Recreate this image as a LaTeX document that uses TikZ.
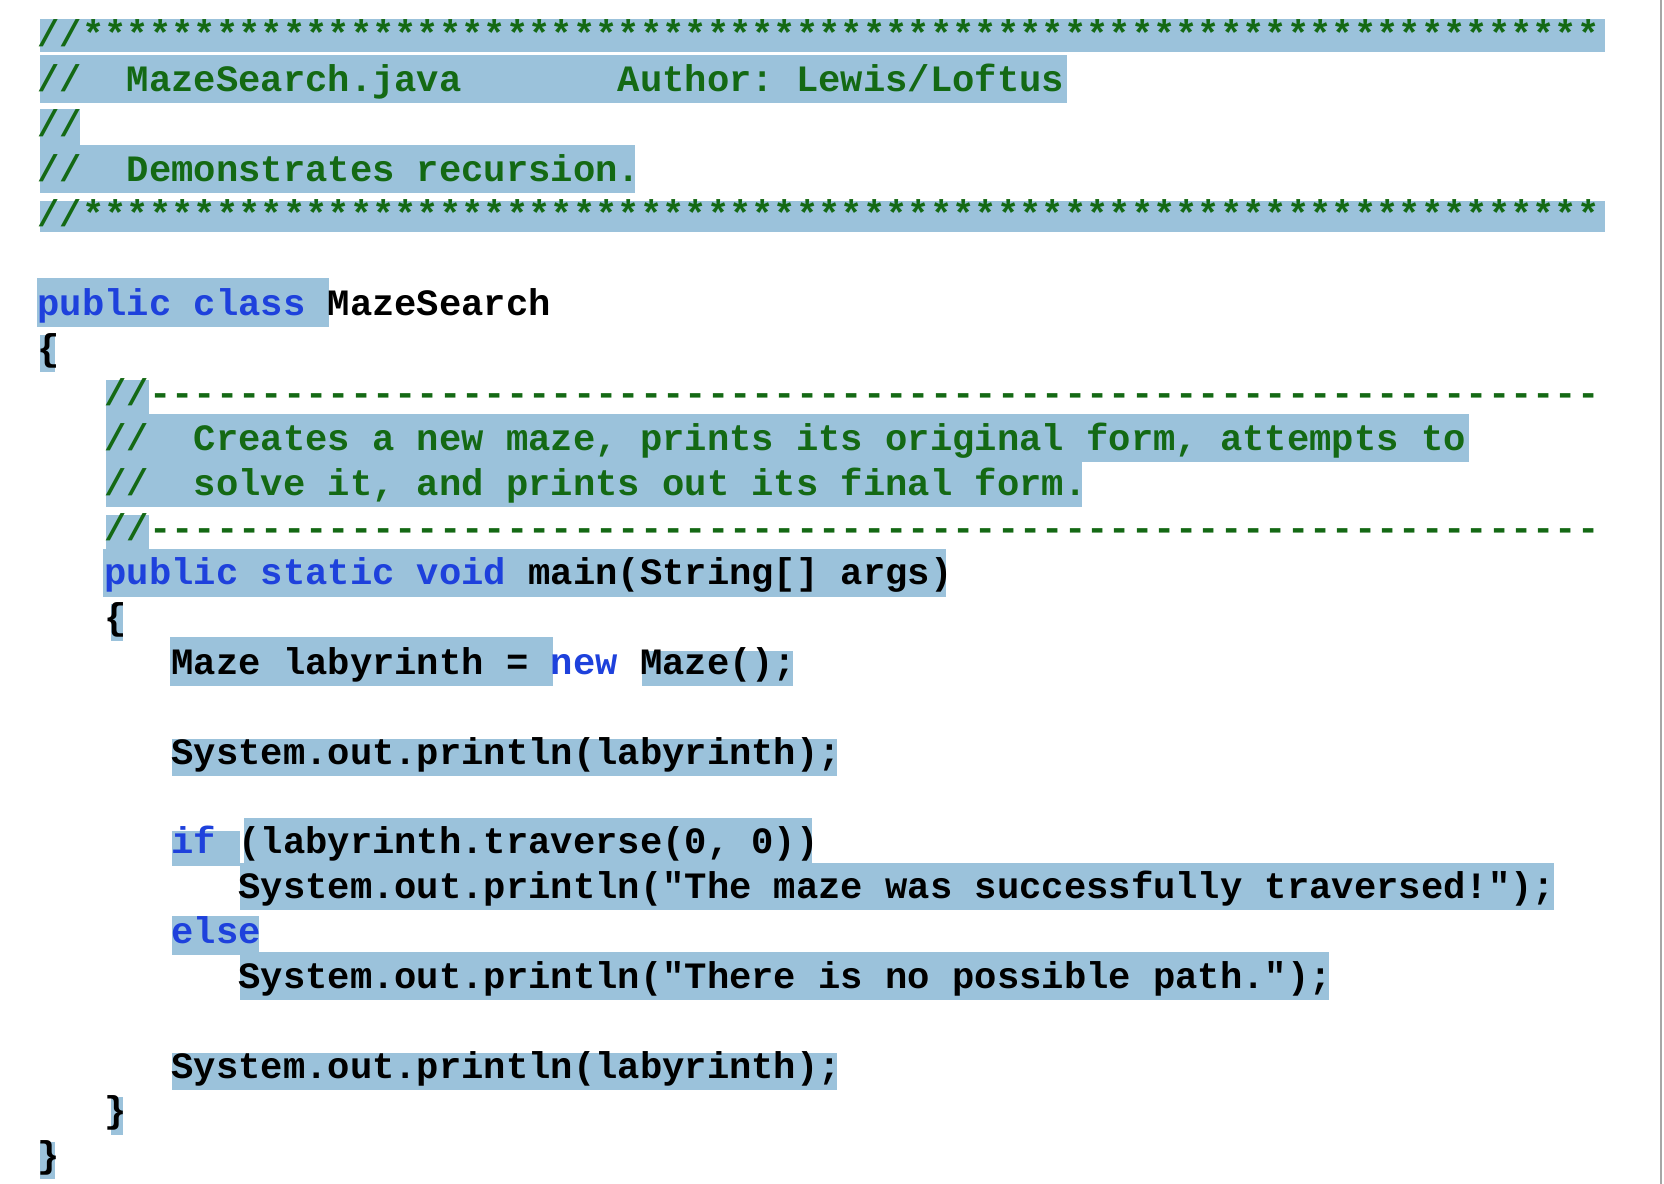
\documentclass[tikz,border=0pt]{standalone}
\usepackage{fontspec}
\setmonofont{Liberation Mono}
\definecolor{hl}{RGB}{155,194,219}
\definecolor{cg}{RGB}{20,105,20}
\definecolor{kw}{RGB}{30,65,220}
\newcommand\tk[4]{\node[tok,text=#3] at ({35+21*#1},{-(44+42.2*#2)}) {#4};}
\newcommand\hb[4]{\fill[hl] (#1,{-(34+42.2*#3-#4)}) rectangle (#2,{-(34+42.2*#3+21)});}
\tikzset{tok/.style={anchor=base west,inner sep=0pt,font=\ttfamily\bfseries\fontsize{17.5}{20}\selectfont}}
\begin{document}
\begin{tikzpicture}[x=0.5pt,y=0.5pt]
\useasboundingbox (0,0) rectangle (1566,-1114);
\fill[white] (0,0) rectangle (1566,-1114);
\draw[gray!70,line width=1pt] (1563,0) -- (1563,-1114);
% highlights
\fill[hl] (38,-18) rectangle (1510,-49);
\hb{38}{1004}{1}{24}
\hb{38}{75}{2}{16}
\hb{38}{598}{3}{24}
\fill[hl] (38,-189) rectangle (1510,-218);
\hb{35}{310}{6}{26}
\hb{38}{52}{7}{14}
\hb{100}{140}{8}{14}
\hb{100}{1382}{9}{24}
\hb{100}{1018}{10}{21}
\hb{100}{140}{11}{14}
\hb{97}{890}{12}{24}
\hb{104}{116}{13}{14}
\hb{160}{520}{14}{25}
\hb{604}{746}{14}{12}
\hb{162}{788}{16}{14}
\hb{162}{226}{18}{12}
\hb{230}{764}{18}{24}
\hb{226}{1462}{19}{24}
\hb{162}{244}{20}{16}
\hb{226}{1251}{21}{24}
\hb{162}{788}{23}{14}
\hb{104}{116}{24}{14}
\hb{38}{52}{25}{14}
% text
\tk{0}{0}{cg}{//********************************************************************}
\tk{0}{1}{cg}{//}
\tk{4}{1}{cg}{MazeSearch.java}
\tk{26}{1}{cg}{Author: Lewis/Loftus}
\tk{0}{2}{cg}{//}
\tk{0}{3}{cg}{//}
\tk{4}{3}{cg}{Demonstrates recursion.}
\tk{0}{4}{cg}{//********************************************************************}
\tk{0}{6}{kw}{public class}
\tk{13}{6}{black}{MazeSearch}
\tk{0}{7}{black}{\{}
\tk{3}{8}{cg}{//-----------------------------------------------------------------}
\tk{3}{9}{cg}{//}
\tk{7}{9}{cg}{Creates a new maze, prints its original form, attempts to}
\tk{3}{10}{cg}{//}
\tk{7}{10}{cg}{solve it, and prints out its final form.}
\tk{3}{11}{cg}{//-----------------------------------------------------------------}
\tk{3}{12}{kw}{public static void}
\tk{22}{12}{black}{main(String[] args)}
\tk{3}{13}{black}{\{}
\tk{6}{14}{black}{Maze labyrinth =}
\tk{23}{14}{kw}{new}
\tk{27}{14}{black}{Maze();}
\tk{6}{16}{black}{System.out.println(labyrinth);}
\tk{6}{18}{kw}{if}
\tk{9}{18}{black}{(labyrinth.traverse(0, 0))}
\tk{9}{19}{black}{System.out.println("The maze was successfully traversed!");}
\tk{6}{20}{kw}{else}
\tk{9}{21}{black}{System.out.println("There is no possible path.");}
\tk{6}{23}{black}{System.out.println(labyrinth);}
\tk{3}{24}{black}{\}}
\tk{0}{25}{black}{\}}
\end{tikzpicture}
\end{document}
